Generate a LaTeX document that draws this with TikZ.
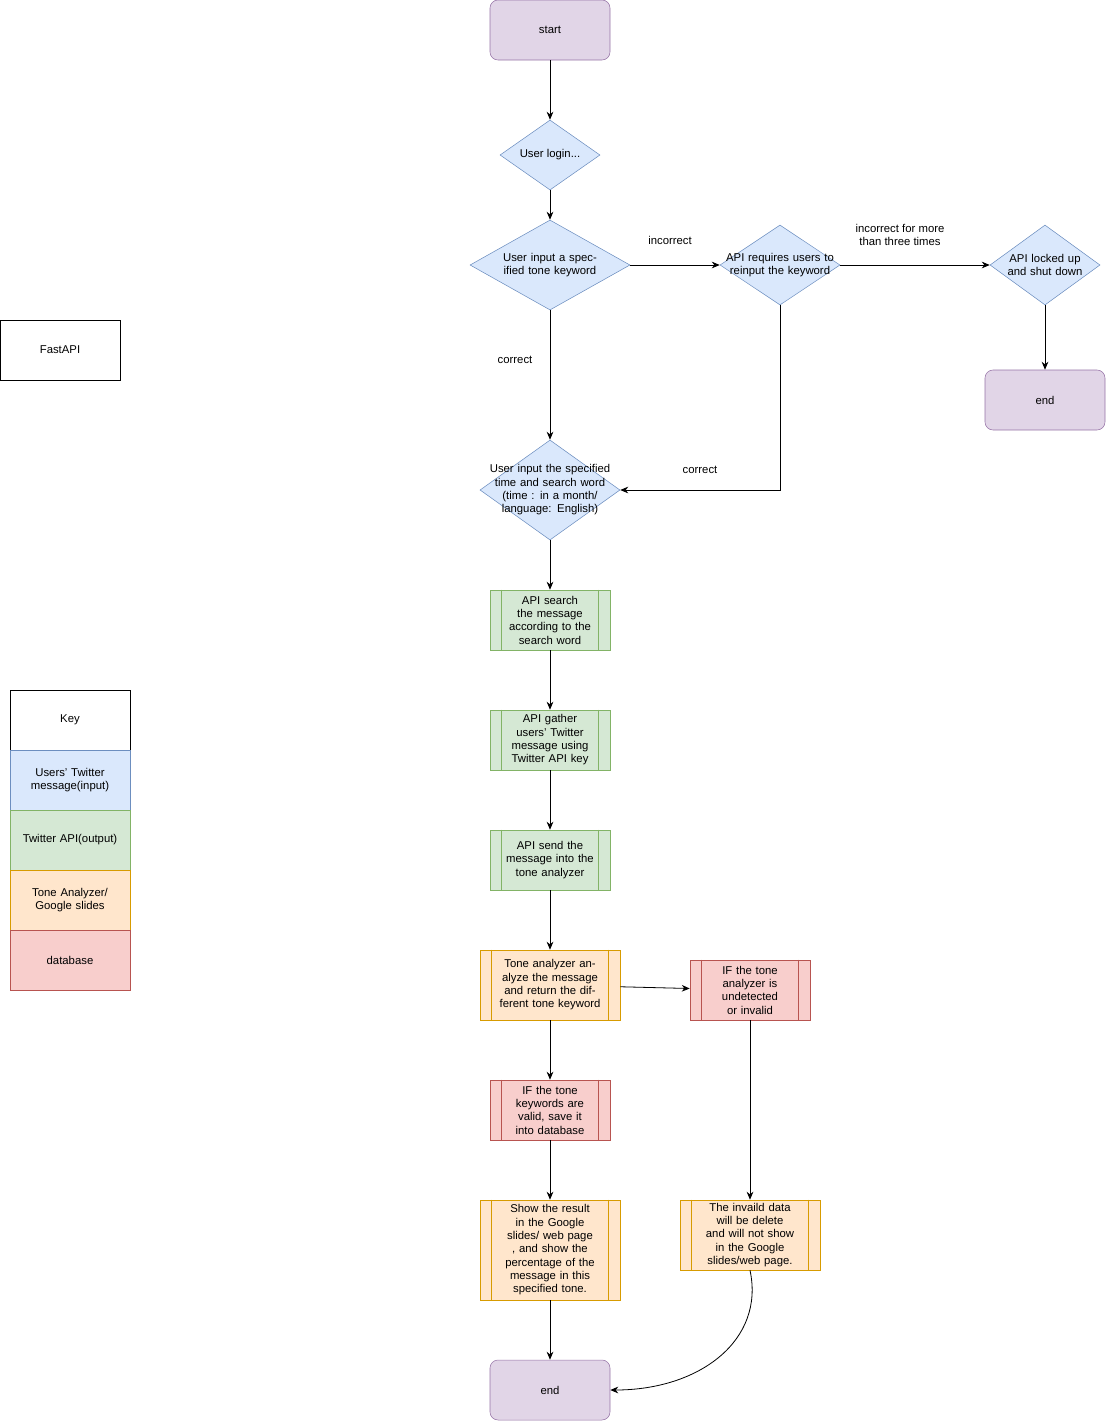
\documentclass[tikz,border=0pt]{standalone}
\usepackage{fontspec}
\setmainfont{Liberation Sans}
\usetikzlibrary{shapes.geometric,arrows.meta}
\definecolor{pf}{HTML}{E1D5E7}\definecolor{pd}{HTML}{9673A6}
\definecolor{bf}{HTML}{DAE8FC}\definecolor{bd}{HTML}{6C8EBF}
\definecolor{gf}{HTML}{D5E8D4}\definecolor{gd}{HTML}{82B366}
\definecolor{of}{HTML}{FFE6CC}\definecolor{od}{HTML}{D79B00}
\definecolor{rf}{HTML}{F8CECC}\definecolor{rd}{HTML}{B85450}
\tikzset{
 every node/.style={font=\fontsize{8.5pt}{10pt}\selectfont, inner sep=0pt},
 term/.style={draw=pd,fill=pf,rounded corners=6pt,minimum width=90pt,minimum height=45pt},
 dia/.style={draw=bd,fill=bf,diamond,minimum width=#1},
 lbl/.style={align=center,text width=#1},
 box/.style={draw,fill=white,minimum width=90pt,minimum height=45pt,align=center,text width=84pt},
 arr/.style={-{Stealth[length=6pt,width=5pt]},line width=0.6pt},
}
\newcommand{\proc}[7]{% name, cx, cy, w, h, fill, draw  (in px)
 \node[draw=#7,fill=#6,minimum width=#4*0.75pt,minimum height=#5*0.75pt] (#1) at (#2,#3) {};
 \draw[#7] ([xshift=12*0.75pt]#1.north west)--([xshift=12*0.75pt]#1.south west);
 \draw[#7] ([xshift=-12*0.75pt]#1.north east)--([xshift=-12*0.75pt]#1.south east);
}
\begin{document}
\begin{tikzpicture}[x=0.75pt,y=-0.75pt]
\useasboundingbox (0,0) rectangle (1106,1421);
\node[term] (start) at (550,30) {start};
\node[dia, draw=bd, fill=bf, diamond, minimum width=75pt, minimum height=52.5pt] (login) at (550,155) {};
\node at (550,155) {User login...};
\node[diamond,draw=bd,fill=bf,minimum width=120pt,minimum height=67.5pt] (kw) at (550,265) {};
\node[lbl=120pt] at (550,265) {User input a specified tone keyword};
\node[diamond,draw=bd,fill=bf,minimum width=90pt,minimum height=60pt] (req) at (780,265) {};
\node[lbl=90pt] at (780,265) {API requires users to reinput the keyword};
\node[diamond,draw=bd,fill=bf,minimum width=82.5pt,minimum height=60pt] (lock) at (1045,265) {};
\node[lbl=82pt] at (1045,265) {API locked up and shut down};
\node[term] (end1) at (1045,400) {end};
\node[draw,fill=white,minimum width=90pt,minimum height=45pt] (fast) at (60,350) {FastAPI};
\node[diamond,draw=bd,fill=bf,minimum width=105pt,minimum height=75pt] (time) at (550,490) {};
\node[lbl=100pt] at (550,490) {User input the specified time and search word (time : in a month/ language: English)};
\proc{p1}{550}{620}{120}{60}{gf}{gd}
\node[lbl=68pt] at (550,620) {API search the message according to the search word};
\proc{p2}{550}{740}{120}{60}{gf}{gd}
\node[lbl=70pt] at (550,740) {API gather users' Twitter message using Twitter API key};
\proc{p3}{550}{860}{120}{60}{gf}{gd}
\node[lbl=72pt] at (550,860) {API send the message into the tone analyzer};
\proc{tone}{550}{985}{140}{70}{of}{od}
\node[lbl=82pt] at (550,985) {Tone analyzer analyze the message and return the different tone keyword};
\proc{inv}{750}{990}{120}{60}{rf}{rd}
\node[lbl=68pt] at (750,990) {IF the tone analyzer is undetected or invalid};
\proc{val}{550}{1110}{120}{60}{rf}{rd}
\node[lbl=70pt] at (550,1110) {IF the tone keywords are valid, save it into database};
\proc{show}{550}{1250}{140}{100}{of}{od}
\node[lbl=74pt] at (550,1250) {Show the result in the Google slides/ web page , and show the percentage of the message in this specified tone.};
\proc{idat}{750}{1235}{140}{70}{of}{od}
\node[lbl=80pt] at (750,1235) {The invaild data will be delete and will not show in the Google slides/web page.};
\node[term] (end2) at (550,1390) {end};
% key
\node[box] (k0) at (70,720) {Key};
\node[box,draw=bd,fill=bf] (k1) at (70,780) {Users' Twitter message(input)};
\node[box,draw=gd,fill=gf] (k2) at (70,840) {Twitter API(output)};
\node[box,draw=od,fill=of] (k3) at (70,900) {Tone Analyzer/ Google slides};
\node[box,draw=rd,fill=rf] (k4) at (70,960) {database};
% edges
\draw[arr] (start)--(login);
\draw[arr] (login)--(kw);
\draw[arr] (kw)--(req);
\draw[arr] (req)--(lock);
\draw[arr] (lock)--(end1);
\draw[arr] (kw)--(time);
\draw[arr] (req.south)|-(time.east);
\draw[arr] (time)--(p1);
\draw[arr] (p1)--(p2);
\draw[arr] (p2)--(p3);
\draw[arr] (p3)--(tone);
\draw[arr] (tone)--(inv);
\draw[arr] (tone)--(val);
\draw[arr] (val)--(show);
\draw[arr] (show)--(end2);
\draw[arr] (inv)--(idat);
\draw[arr] (idat.south) .. controls (765,1340) and (700,1390) .. (end2.east);
\node at (670,240) {incorrect};
\node[align=center] at (900,235) {incorrect for more\\ than three times};
\node at (515,360) {correct};
\node at (700,470) {correct};
\end{tikzpicture}
\end{document}
